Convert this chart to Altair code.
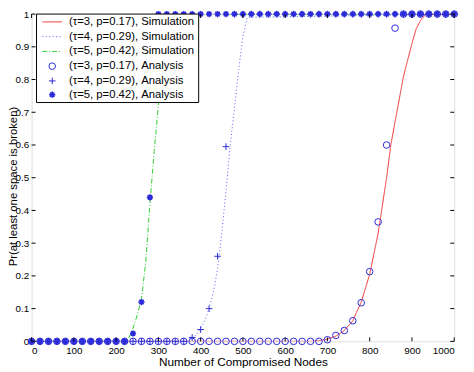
import altair as alt
import pandas as pd

# ---------------- data ----------------
x_analysis = list(range(0, 1001, 20))

tau3_analysis = [0, 0, 0, 0, 0, 0, 0, 0, 0, 0,
                 0, 0, 0, 0, 0, 0, 0, 0, 0, 0,
                 0, 0, 0, 0, 0, 0, 0, 0, 0, 0,
                 0, 0, 0, 0, 0, 0.005, 0.018, 0.033, 0.063, 0.118,
                 0.213, 0.365, 0.600, 0.957, 1, 1, 1, 1, 1, 1,
                 1]
tau4_analysis = [0, 0, 0, 0, 0, 0, 0, 0, 0, 0,
                 0, 0, 0, 0, 0, 0, 0, 0, 0, 0.012,
                 0.036, 0.100, 0.260, 0.595, 1, 1, 1, 1, 1, 1,
                 1, 1, 1, 1, 1, 1, 1, 1, 1, 1,
                 1, 1, 1, 1, 1, 1, 1, 1, 1, 1,
                 1]
tau5_analysis = [0, 0, 0, 0, 0, 0, 0, 0, 0, 0,
                 0, 0, 0.024, 0.120, 0.440, 1, 1, 1, 1, 1,
                 1, 1, 1, 1, 1, 1, 1, 1, 1, 1,
                 1, 1, 1, 1, 1, 1, 1, 1, 1, 1,
                 1, 1, 1, 1, 1, 1, 1, 1, 1, 1,
                 1]

sim3_x = [0, 660, 680, 700, 720, 740, 760, 780, 800, 820, 840, 850, 860, 870, 880, 890, 900, 910, 920, 933, 1000]
sim3_y = [0, 0, 0.002, 0.007, 0.016, 0.033, 0.063, 0.12, 0.205, 0.33, 0.50, 0.60, 0.67, 0.74, 0.81, 0.86, 0.91, 0.955, 0.98, 1, 1]
sim4_x = [0, 370, 380, 390, 400, 410, 420, 430, 440, 450, 460, 470, 480, 490, 500, 510, 1000]
sim4_y = [0, 0, 0.01, 0.02, 0.04, 0.065, 0.10, 0.15, 0.22, 0.33, 0.46, 0.60, 0.71, 0.83, 0.93, 0.99, 1]
sim5_x = [0, 220, 230, 240, 250, 260, 270, 280, 290, 300, 310, 320, 330, 1000]
sim5_y = [0, 0, 0.01, 0.04, 0.08, 0.13, 0.24, 0.42, 0.58, 0.72, 0.87, 0.97, 1, 1]

x_ticks = [0, 100, 200, 300, 400, 500, 600, 700, 800, 900, 1000]
y_ticks = [0, 0.1, 0.2, 0.3, 0.4, 0.5, 0.6, 0.7, 0.8, 0.9, 1]

legend_labels = ["(τ=3, p=0.17), Simulation", "(τ=4, p=0.29), Simulation", "(τ=5, p=0.42), Simulation",
                 "(τ=3, p=0.17), Analysis", "(τ=4, p=0.29), Analysis", "(τ=5, p=0.42), Analysis"]

# ---------------- styling ----------------
FONT = "Liberation Sans"
W, H = 430, 333
RED = "#f03232"
BLUE_DOT = "#5a5aff"
GREEN = "#2ecc2e"
MARK = "#2b2bd9"
PLUS_PATH = "M-1,0L1,0M0,-1L0,1"
STAR_PATH = "M-1,0L1,0M0,-1L0,1M-0.7,-0.7L0.7,0.7M-0.7,0.7L0.7,-0.7"

xscale = alt.Scale(domain=[0, 1000], nice=False, zero=False)
yscale = alt.Scale(domain=[0, 1], nice=False)
xaxis = alt.Axis(values=x_ticks, format="d", title="Number of Compromised Nodes", ticks=False, domain=False,
                 grid=False, labelFontSize=10, labelPadding=4, titleFontSize=12,
                 titleFontWeight="normal", titleY=25, titleBaseline="alphabetic",
                 labelFont=FONT, titleFont=FONT, labelColor="black", titleColor="black")
yaxis = alt.Axis(values=y_ticks, format="~g", title="Pr(at least one space is broken)", ticks=False,
                 domain=False, grid=False, labelFontSize=10, labelPadding=3, titleFontSize=11.5,
                 titleFontWeight="normal", titleX=-15, titleY=175, titleBaseline="alphabetic",
                 labelFont=FONT, titleFont=FONT, labelColor="black", titleColor="black")


def X(field):
    return alt.X(field, type="quantitative", scale=xscale, axis=xaxis)


def Y(field):
    return alt.Y(field, type="quantitative", scale=yscale, axis=yaxis)


def line_layer(xs, ys, color, dash):
    df = pd.DataFrame({"x": xs, "y": ys})
    return alt.Chart(df).mark_line(color=color, strokeWidth=1, strokeDash=dash, clip=True).encode(
        x=X("x"), y=Y("y"))


def point_layer(ys, shape, size, sw):
    df = pd.DataFrame({"x": x_analysis, "y": ys})
    return alt.Chart(df).mark_point(shape=shape, filled=False, color=MARK, size=size,
                                    strokeWidth=sw, opacity=1).encode(x=X("x"), y=Y("y"))


layers = [
    line_layer(sim5_x, sim5_y, GREEN, [5, 2, 1, 2]),
    line_layer(sim4_x, sim4_y, BLUE_DOT, [1, 2.5]),
    line_layer(sim3_x, sim3_y, RED, [1, 0]),
    point_layer(tau3_analysis, "circle", 45, 1),
    point_layer(tau4_analysis, PLUS_PATH, 45, 1),
    point_layer(tau5_analysis, STAR_PATH, 40, 1.6),
]

# inner ticks on all four sides
xt = pd.DataFrame({"v": x_ticks})
yt = pd.DataFrame({"v": y_ticks})
tick_style = dict(color="black", strokeWidth=1)
layers += [
    alt.Chart(xt).mark_rule(**tick_style).encode(x=X("v"), y=alt.value(H), y2=alt.value(H - 4)),
    alt.Chart(xt).mark_rule(**tick_style).encode(x=X("v"), y=alt.value(0), y2=alt.value(4)),
    alt.Chart(yt).mark_rule(**tick_style).encode(y=Y("v"), x=alt.value(0), x2=alt.value(4)),
    alt.Chart(yt).mark_rule(**tick_style).encode(y=Y("v"), x=alt.value(W), x2=alt.value(W - 4)),
]

# manual legend
one = pd.DataFrame({"a": [0]})
layers.append(alt.Chart(one).mark_rect(fill="white", stroke="black", strokeWidth=1).encode(
    x=alt.value(5), x2=alt.value(170), y=alt.value(0), y2=alt.value(90)))
row_y = [8, 23, 38, 53, 68, 82]
sim_styles = [(RED, [1, 0]), (BLUE_DOT, [1, 2.5]), (GREEN, [5, 2, 1, 2])]
for i, (c, d) in enumerate(sim_styles):
    layers.append(alt.Chart(one).mark_rule(color=c, strokeWidth=1, strokeDash=d).encode(
        x=alt.value(11), x2=alt.value(31), y=alt.value(row_y[i])))
mk = [("circle", 45, 1), (PLUS_PATH, 45, 1), (STAR_PATH, 40, 1.6)]
for i, (s, sz, sw) in enumerate(mk):
    layers.append(alt.Chart(one).mark_point(shape=s, filled=False, color=MARK, size=sz, strokeWidth=sw,
                                            opacity=1).encode(
        x=alt.value(21), y=alt.value(row_y[3 + i])))
for i, lab in enumerate(legend_labels):
    layers.append(alt.Chart(one).mark_text(text=lab, align="left", baseline="middle", fontSize=11.5,
                                           font=FONT, color="black").encode(
        x=alt.value(38), y=alt.value(row_y[i])))

chart = alt.layer(*layers).properties(
    width=W, height=H,
    autosize=alt.AutoSizeParams(type="none"),
    padding={"left": 24, "top": 3, "right": 12, "bottom": 28},
).configure_view(stroke="black", strokeWidth=1).configure(background="white")

chart.save("out.html", embed_options={"renderer": "svg", "actions": False})
